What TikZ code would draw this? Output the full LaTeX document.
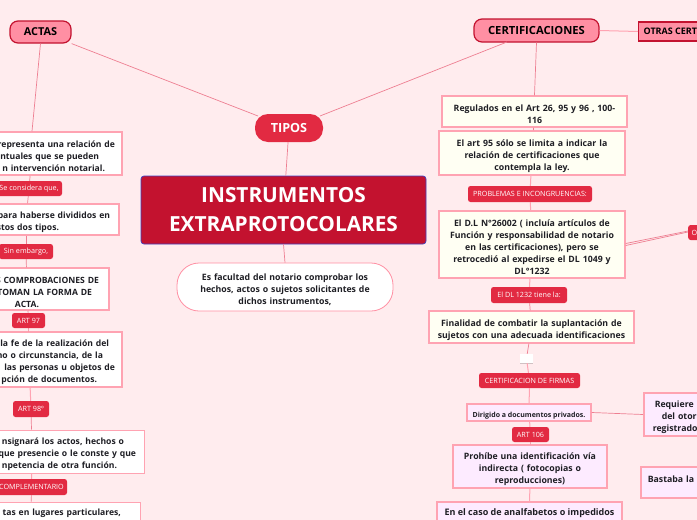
\documentclass[tikz,border=0pt]{standalone}
\usepackage{fontspec}
\setmainfont{Open Sans}
\usetikzlibrary{shadows}
\definecolor{paperpink}{HTML}{FFECEE}
\definecolor{deepred}{HTML}{C3122F}
\definecolor{chipred}{HTML}{E22A42}
\definecolor{softpink}{HTML}{FF8FA3}
\definecolor{edgepink}{HTML}{FFA3B2}
\definecolor{linkpink}{HTML}{EE7F92}
\definecolor{ivorybox}{HTML}{FFFFF3}
\definecolor{lilacbox}{HTML}{FDEBFF}
\definecolor{inkdark}{HTML}{1E1E24}
\newcommand{\rgap}[1]{\kern#1pt}
\tikzset{
  textbox/.style={draw=edgepink, line width=1.5pt, inner sep=0pt, text=inkdark, align=center, font=\fontsize{8.75}{12}\selectfont\bfseries, execute at begin node={\rule{0pt}{12.5pt}}},
  softshadow/.style={general shadow={fill=black, opacity=.18, shadow yshift=-1pt}},
  whitebox/.style={textbox, fill=white, softshadow, font=\fontsize{8.6}{12}\selectfont\bfseries},
  ivorytext/.style={textbox, fill=ivorybox, softshadow},
  lilactext/.style={textbox, fill=lilacbox},
  cutbox/.style={textbox, fill=white, align=right, font=\fontsize{8.6}{12}\selectfont\bfseries},
  chip/.style={fill=chipred, rounded corners=2.5pt, inner sep=0pt, text=white, font=\fontsize{7.2}{9}\selectfont},
  topic/.style={draw=deepred, line width=1.2pt, fill=softpink, rounded corners=8pt, inner sep=0pt, text=black, font=\bfseries},
  link/.style={draw=linkpink, line width=.7pt},
  palelink/.style={draw=edgepink, line width=1pt},
}
\begin{document}
\begin{tikzpicture}[x=1pt,y=-1pt]
\useasboundingbox (0,0) rectangle (697,520);
\clip (0,0) rectangle (697,520);
\fill[paperpink] (0,0) rectangle (697,520);
% centre
\node[fill=deepred, draw=blue!50!gray, line width=.7pt, rounded corners=3pt, minimum width=285pt, minimum height=68pt, inner sep=0pt, align=center, text=white, font=\fontsize{20.8}{29}\selectfont\bfseries] (main) at (283.5,210) {INSTRUMENTOS\\EXTRAPROTOCOLARES};
\node[fill=chipred, rounded corners=13pt, minimum width=68pt, minimum height=28pt, inner sep=0pt, text=white, font=\fontsize{12.6}{14}\selectfont\bfseries] (tipos) at (289,128) {TIPOS};
\node[textbox, draw=softpink, line width=.8pt, fill=white, rounded corners=22pt, text width=216pt, minimum height=48pt] (facultad) at (285,287) {Es facultad del notario comprobar los\\hechos, actos o sujetos solicitantes de\\dichos instrumentos,};
% left branch
\node[topic, minimum width=61pt, minimum height=22pt, font=\fontsize{10.9}{12}\selectfont\bfseries] (actas) at (40.5,32) {ACTAS};
\node[whitebox, align=right, text width=180pt, minimum height=43pt] (acta1) at (32,153.5) {representa una relación de\rgap{7}\\ntuales que se pueden\rgap{23}\\n intervención notarial.\rgap{17}};
\node[chip, minimum width=66pt, minimum height=15pt] (considera) at (29,188.5) {Se considera que,};
\node[whitebox, align=right, text width=186pt, minimum height=31pt] (acta2) at (26,219.5) {para haberse divididos en\rgap{9}\\stos dos tipos.\rgap{60}};
\node[chip, minimum width=54pt, minimum height=15pt] (embargo) at (26,251.5) {Sin embargo,};
\node[whitebox, align=right, text width=164pt, minimum height=42pt] (acta3) at (27,289) {S COMPROBACIONES DE\rgap{10}\\TOMAN LA FORMA DE\rgap{17}\\ACTA.\rgap{70}};
\node[chip, minimum width=33pt, minimum height=15pt] (art97) at (28.5,320.5) {ART 97};
\node[whitebox, align=right, text width=186pt, minimum height=55pt] (acta4) at (29,359.5) {la fe de la realización del\rgap{13}\\ho o circunstancia, de la\rgap{19}\\las personas u objetos de\rgap{7}\\pción de documentos.\rgap{25}};
\node[chip, minimum width=36pt, minimum height=16pt] (art98) at (31,409) {ART 98º};
\node[cutbox, line width=1pt, text width=224pt, minimum height=43pt] (acta5) at (32,451.5) {nsignará los actos, hechos o\rgap{20}\\que presencie o le conste y que\rgap{8}\\npetencia de otra función.\rgap{27}};
\node[chip, minimum width=71pt, minimum height=16pt] (complementario) at (31.5,487) {COMPLEMENTARIO};
\node[cutbox, line width=1pt, text width=218pt, minimum height=36pt, text depth=22pt] (acta6) at (31,520) {tas en lugares particulares,\rgap{19}};
% right branch
\node[topic, minimum width=125pt, minimum height=23pt, font=\fontsize{11.2}{13}\selectfont\bfseries] (certif) at (536.5,30.5) {CERTIFICACIONES};
\node[draw=deepred, line width=1.2pt, fill=softpink, anchor=west, minimum width=80pt, minimum height=19pt, inner sep=0pt, text=black, font=\fontsize{9}{10}\selectfont\bfseries, align=left] (otras) at (638,31.5) {\hspace*{5pt}OTRAS CERT\rgap{30}};
\node[ivorytext, text width=185pt, minimum height=31pt] (regulados) at (534.5,111.5) {Regulados en el Art 26, 95 y 96 , 100-\\116};
\node[ivorytext, text width=186pt, minimum height=44pt] (art95) at (532,153) {El art 95 sólo se limita a indicar la\\relación de certificaciones que\\contempla la ley.};
\node[chip, minimum width=124pt, minimum height=16pt] (problemas) at (530,194) {PROBLEMAS E INCONGRUENCIAS:};
\node[ivorytext, text width=186pt, minimum height=67pt] (decreto) at (532,244.5) {El D.L N°26002 ( incluía artículos de\\Función y responsabilidad de notario\\en las certificaciones), pero se\\retrocedió al expedirse el DL 1049 y\\DL°1232};
\node[chip, text width=20pt, minimum height=15pt, anchor=west, align=left] (otrochip) at (688,232.5) {\hspace*{3.5pt}O};
\node[chip, minimum width=76pt, minimum height=16pt] (dl1232) at (529,295) {El DL 1232 tiene la:};
\node[ivorytext, text width=205pt, minimum height=32pt] (finalidad) at (531.5,327) {Finalidad de combatir la suplantación de\\sujetos con una adecuada identificaciones};
\node[fill=white, minimum width=13pt, minimum height=9pt, inner sep=0pt, softshadow] (blanco) at (526.5,358.5) {};
\node[chip, minimum width=101pt, minimum height=15pt] (firmas) at (529.5,380.5) {CERTIFICACION DE FIRMAS};
\node[lilactext, minimum width=124pt, minimum height=17pt, font=\fontsize{7}{9}\selectfont\bfseries] (privados) at (529,412.5) {Dirigido a documentos privados.};
\node[lilactext, anchor=west, text width=80pt, align=left, minimum height=43pt] (requiere) at (643,414.5) {\hspace*{11pt}Requiere\\\hspace*{18pt}del otor\\\hspace*{9pt}registrado};
\node[chip, minimum width=37pt, minimum height=15pt] (art106) at (530.5,434.5) {ART 106};
\node[lilactext, text width=154pt, minimum height=43pt] (prohibe) at (530,466.5) {Prohíbe una identificación vía\\indirecta ( fotocopias o\\reproducciones)};
\node[lilactext, anchor=west, text width=80pt, align=left, minimum height=31pt] (bastaba) at (640,482.5) {\hspace*{7pt}Bastaba la\\~};
\node[lilactext, minimum width=185pt, minimum height=36pt, text depth=22pt, font=\fontsize{9}{12}\selectfont\bfseries] (analfabetos) at (529.5,520) {En el caso de analfabetos o impedidos};
% connectors
\coordinate (tl) at (258,116);
\coordinate (tr) at (320,116);
\coordinate (cs) at (507,42);
\draw[link] (tl) -- (actas.south east);
\draw[link] (tr) -- (cs);
\draw[link] (main) -- (tipos);
\draw[link] (main.south) -- (facultad.north);
\draw[link] (actas.south) -- (acta1.north);
\draw[link] (acta1) -- (considera);
\draw[link] (considera) -- (acta2);
\draw[link] (acta2) -- (embargo);
\draw[link] (embargo) -- (acta3);
\draw[link] (acta3) -- (art97);
\draw[link] (art97) -- (acta4);
\draw[palelink] (acta4) -- (art98);
\draw[link] (art98) -- (acta5);
\draw[palelink] (acta5) -- (complementario);
\draw[link] (complementario) -- (acta6);
\draw[palelink] (certif.east) -- (otras.west);
\draw[link] (certif.south) -- (regulados.north);
\draw[link] (regulados) -- (art95);
\draw[palelink] (art95) -- (problemas);
\draw[palelink] (problemas) -- (decreto);
\draw[link] ([yshift=-1pt]decreto.east) -- ([yshift=.5pt]otrochip.west);
\draw[link] ([yshift=1pt]decreto.east) -- ([yshift=1.5pt]otrochip.west);
\draw[palelink] (decreto) -- (dl1232);
\draw[link] (dl1232) -- (finalidad);
\draw[link] (finalidad) -- (blanco);
\draw[palelink] (blanco) -- (firmas);
\draw[palelink] (firmas) -- (privados);
\draw[palelink] (privados) -- (art106);
\draw[link] (art106) -- (prohibe);
\draw[palelink] (prohibe) -- (analfabetos);
\draw[link] (privados.east) -- (requiere.west);
\end{tikzpicture}
\end{document}
